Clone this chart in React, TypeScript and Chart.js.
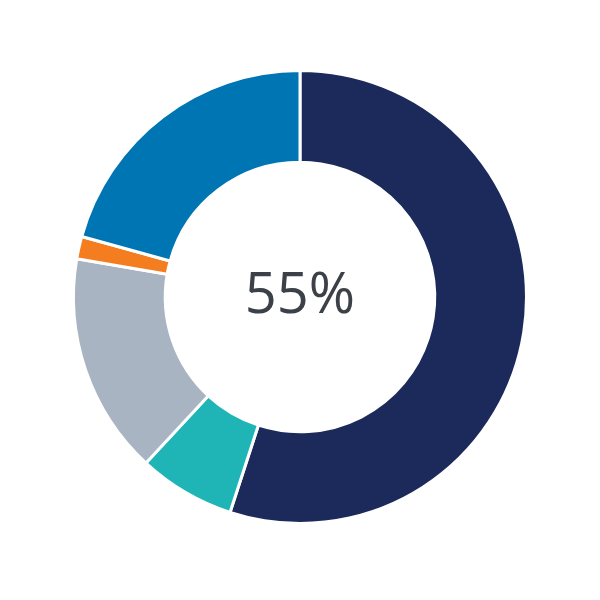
import React, { useEffect, useRef } from "react";
import { Chart, registerables } from "chart.js";

Chart.register(...registerables);

const categories = ["Segment A", "Segment B", "Segment C", "Segment D", "Segment E"];
const values = [55, 6.9, 15.8, 1.6, 20.7];
const colors = ["#1b2a5a", "#1fb5b6", "#a9b4c2", "#f47d20", "#0075b4"];
const centerLabel = "55%";
const FONT = "56px 'Open Sans'";

const centerText = {
  id: "centerText",
  afterDatasetsDraw(chart: any) {
    const meta = chart.getDatasetMeta(0);
    const arc = meta.data[0];
    if (!arc) return;
    const { x, y } = arc;
    const ctx = chart.ctx;
    ctx.save();
    ctx.font = FONT;
    ctx.fillStyle = "#3c4148";
    ctx.textAlign = "center";
    ctx.textBaseline = "middle";
    ctx.fillText(centerLabel, x, y);
    ctx.restore();
  },
};

export default function App() {
  const ref = useRef<HTMLCanvasElement>(null);
  useEffect(() => {
    let chart: Chart | null = null;
    let cancelled = false;
    const make = () => {
      if (cancelled || !ref.current) return;
      chart = new Chart(ref.current, {
        type: "doughnut",
        data: {
          labels: categories,
          datasets: [
            {
              data: values,
              backgroundColor: colors,
              borderColor: "#ffffff",
              borderWidth: 3,
            },
          ],
        },
        options: {
          animation: false,
          responsive: true,
          maintainAspectRatio: false,
          cutout: "59.5%",
          layout: { padding: { top: 69, bottom: 75, left: 72, right: 72 } },
          plugins: {
            legend: { display: false },
            tooltip: { enabled: false },
          },
        },
        plugins: [centerText],
      });
    };
    (document as any).fonts.load(FONT).then(make, make);
    return () => {
      cancelled = true;
      if (chart) chart.destroy();
    };
  }, []);
  return (
    <div style={{ position: "absolute", left: 0, top: 0, width: 600, height: 600, background: "#fff" }}>
      <canvas ref={ref} />
    </div>
  );
}
